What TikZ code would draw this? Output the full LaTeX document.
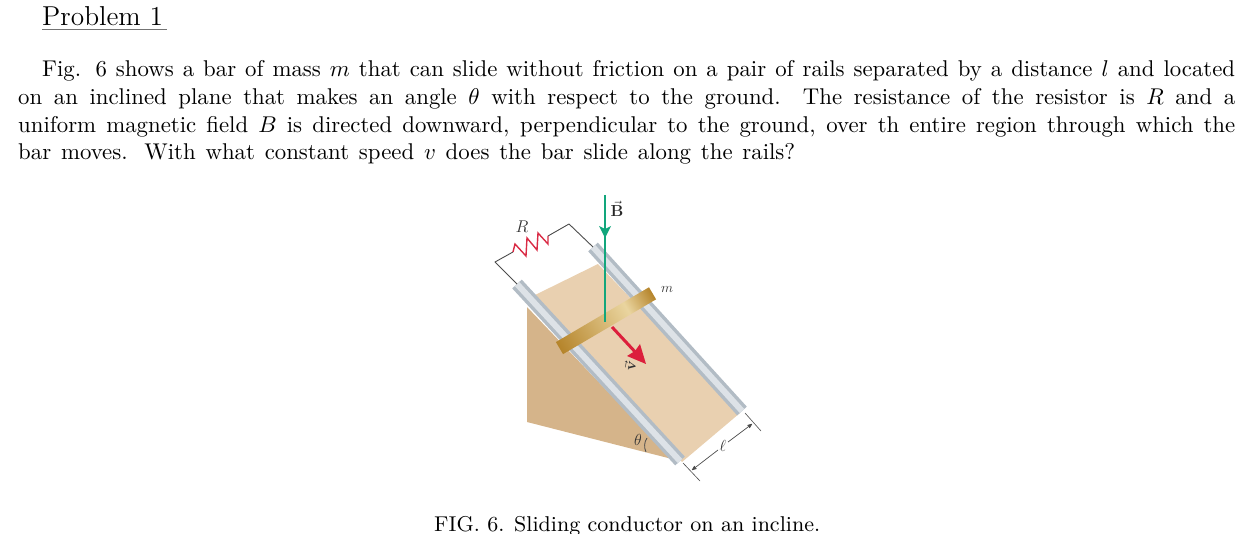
\RequirePackage{fix-cm}
\documentclass[tikz,border=0pt]{standalone}
\usepackage{amsmath}
\usetikzlibrary{arrows}
\definecolor{planetan}{HTML}{E9D0B0}
\definecolor{wedgetan}{HTML}{D5B48A}
\definecolor{railgray}{HTML}{B2BCC5}
\definecolor{raillight}{HTML}{DDE2E7}
\definecolor{fieldgreen}{HTML}{12A67C}
\definecolor{speedred}{HTML}{DC1F3C}
\definecolor{resistred}{HTML}{D92B45}
\definecolor{bargold}{HTML}{B5842A}
\definecolor{barlight}{HTML}{EAD5A0}
\newcommand{\pagetext}[1]{\scalebox{2.28}{#1}}
\tikzset{
  textline/.style = {anchor=base west, inner sep=0pt},
  figlabel/.style = {inner sep=0pt, text=black!80, font=\fontsize{16}{18}\selectfont},
  rail_out/.style = {draw=railgray, line width=13pt},
  rail_in/.style = {draw=raillight, line width=6pt},
  wire/.style = {draw=black!70, line width=0.9pt, line join=round},
  barpart/.style = {transform canvas={rotate around={30.5:(606,320.7)}}}
}
\begin{document}
\begin{tikzpicture}[x=1pt,y=-1pt,>=stealth']
    \useasboundingbox (0,0) rectangle (1235,534);
    % Text:
    \node [textline] (title) at (42,26) {\pagetext{\large Problem 1}};
    \draw [draw=black!55, line width=1.6pt] (42,29.5) -- (167,29.5);
    \node [textline] (line1) at (42,77) {\pagetext{\makebox[523.2pt][s]{Fig. 6 shows a bar of mass $m$ that can slide without friction on a pair of rails separated by a distance $l$ and located}}};
    \node [textline] (line2) at (18,105) {\pagetext{\makebox[533.8pt][s]{on an inclined plane that makes an angle $\theta$ with respect to the ground. The resistance of the resistor is $R$ and a}}};
    \node [textline] (line3) at (18,132.5) {\pagetext{\makebox[533.8pt][s]{uniform magnetic field $B$ is directed downward, perpendicular to the ground, over th entire region through which the}}};
    \node [textline] (line4) at (18,160) {\pagetext{\makebox[340.8pt][s]{bar moves. With what constant speed $v$ does the bar slide along the rails?}}};
    % Wedge and inclined plane:
    \fill [wedgetan] (527,307) -- (527,422) -- (672,459) -- cycle;
    \fill [planetan] (535,295) -- (598,264) -- (740,413) -- (682,462) -- cycle;
    % Rails:
    \coordinate (railL_top) at (517,284);
    \coordinate (railL_bot) at (680,461);
    \coordinate (railR_top) at (593,247);
    \coordinate (railR_bot) at (742,411);
    \foreach \railtop/\railbot in {railL_top/railL_bot, railR_top/railR_bot}{
      \draw [rail_out] (\railtop) -- (\railbot);
      \draw [rail_in] (\railtop) -- (\railbot);
    }
    % Wires and resistor R:
    \coordinate (cornerL) at (495,262);
    \coordinate (cornerR) at (569,224);
    \draw [wire] (railL_top) -- (cornerL) -- (513,252);
    \draw [wire] (548,236) -- (cornerR) -- (railR_top);
    \draw [draw=resistred, line width=1.4pt, line join=miter] (513,252) -- (515,244) -- (526,256) -- (527,238) -- (537,250) -- (538,233) -- (548,244) -- (548,236);
    \node [figlabel, font=\fontsize{17}{19}\selectfont] (labR) at (522,227) {$R$};
    % Bar:
    \shade [barpart, left color=bargold, right color=barlight] (552,313.7) rectangle (630.5,327.7);
    \shade [barpart, left color=barlight, right color=bargold] (630,313.7) rectangle (660,327.7);
    % Field and speed:
    \draw [draw=fieldgreen, line width=1.1pt] (605,195) -- (605,322);
    \fill [fieldgreen] (605,238) -- (599,226) -- (605,229) -- (611,226) -- cycle;
    \node [figlabel, text=black!85] (labB) at (617,209) {$\vec{\mathbf{B}}$};
    \draw [draw=speedred, line width=3pt] (612,327) -- (638,355);
    \fill [speedred] (646,364) -- (627,356) -- (635,351) -- (640,344) -- cycle;
    \node [figlabel, rotate=80] (labv) at (630,366) {$\vec{\mathbf{v}}$};
    \node [figlabel, font=\fontsize{14}{16}\selectfont] (labm) at (667,289) {$m$};
    % Angle:
    \node [figlabel] (labth) at (638,440) {$\theta$};
    \draw [draw=black!70, line width=0.8pt] (647,438) .. controls (644,442) and (644,448) .. (646,452);
    % Width l:
    \coordinate (tickA1) at (683,463);
    \coordinate (tickA2) at (700,481);
    \coordinate (tickB1) at (745,413);
    \coordinate (tickB2) at (761,431);
    \draw [draw=black!70, line width=0.6pt] (tickA1) -- (tickA2);
    \draw [draw=black!70, line width=0.6pt] (tickB1) -- (tickB2);
    \node [figlabel] (labl) at (723,446) {$\ell$};
    \draw [->, draw=black!70, line width=0.7pt] (labl) ++(-5,4) -- (692,470);
    \draw [->, draw=black!70, line width=0.7pt] (labl) ++(5,-4) -- (752,424);
    % Caption:
    \node [textline] (caption) at (434,531) {\scalebox{2.38}{\small FIG. 6. Sliding conductor on an incline.}};
\end{tikzpicture}
\end{document}
